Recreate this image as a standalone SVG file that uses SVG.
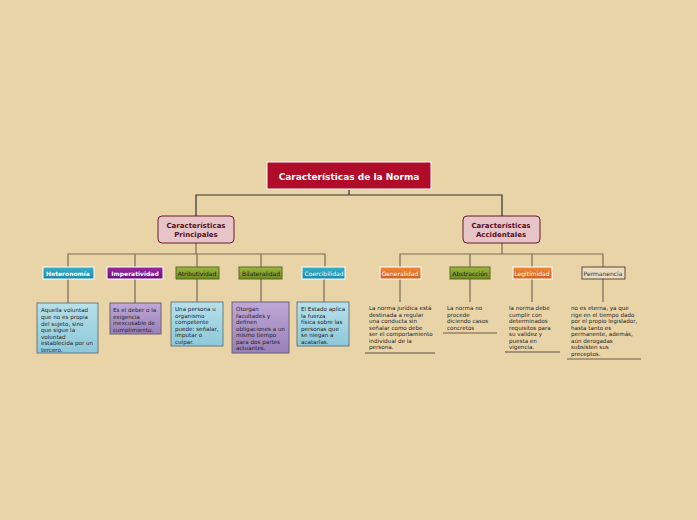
<svg xmlns="http://www.w3.org/2000/svg" width="697" height="520" viewBox="0 0 697 520">
<defs>
<linearGradient id="gb" x1="0" y1="0" x2="0" y2="1"><stop offset="0" stop-color="#3ab0c8"/><stop offset="1" stop-color="#1a88a8"/></linearGradient>
<linearGradient id="gp" x1="0" y1="0" x2="0" y2="1"><stop offset="0" stop-color="#9a2aa0"/><stop offset="1" stop-color="#6a0e78"/></linearGradient>
<linearGradient id="gg" x1="0" y1="0" x2="0" y2="1"><stop offset="0" stop-color="#9cb83e"/><stop offset="1" stop-color="#6f8a20"/></linearGradient>
<linearGradient id="go" x1="0" y1="0" x2="0" y2="1"><stop offset="0" stop-color="#f08a38"/><stop offset="1" stop-color="#d0601a"/></linearGradient>
<linearGradient id="bb" x1="0" y1="0" x2="0" y2="1"><stop offset="0" stop-color="#b8e0ea"/><stop offset="1" stop-color="#8cc8da"/></linearGradient>
<linearGradient id="bp" x1="0" y1="0" x2="0" y2="1"><stop offset="0" stop-color="#c0a8d8"/><stop offset="1" stop-color="#9880b8"/></linearGradient>
</defs>
<style>
text{font-family:"DejaVu Sans",Verdana,sans-serif}
.lbl{font-size:6px;fill:#fff;text-anchor:middle}
.b{font-size:5.6px;fill:#222}
.c{stroke:#7a6a55;stroke-width:1.2;fill:none}
.k{stroke:#333;stroke-width:1.2;fill:none}
.u{stroke:#8a7a68;stroke-width:1.5}
</style>
<rect width="697" height="520" fill="#e9d4a8"/>
<g id="connectors">
<path class="k" d="M349 190V195M196 216V195H502V216"/>
<path class="c" d="M196 243V254M68 267V254H325V267M135 254V267M197 254V267M261 254V267"/>
<path class="c" d="M502 243V254M400 267V254H603V267M470 254V267M532 254V267"/>
<path class="c" d="M68 279V303M135 279V303M197 279V302M261 279V302M324 279V302M400 279V302M470 279V302M532 279V302M603 279V302"/>
</g>
<g id="root"><rect x="267" y="162" width="164" height="27" fill="#b00c2a" stroke="#fff" stroke-width="1"/><text x="349" y="180" font-size="9" font-weight="bold" fill="#fff" text-anchor="middle">Características de la  Norma</text></g>
<g id="principales"><rect x="158" y="216" width="76" height="27" rx="4" fill="#e6c4c8" stroke="#6a1a2a"/><text x="196" y="228" font-size="7" font-weight="bold" fill="#5a1020" text-anchor="middle">Características</text><text x="196" y="237" font-size="7" font-weight="bold" fill="#5a1020" text-anchor="middle">Principales</text></g>
<g id="accidentales"><rect x="463" y="216" width="77" height="27" rx="4" fill="#e6c4c8" stroke="#6a1a2a"/><text x="501" y="228" font-size="7" font-weight="bold" fill="#5a1020" text-anchor="middle">Características</text><text x="501" y="237" font-size="7" font-weight="bold" fill="#5a1020" text-anchor="middle">Accidentales</text></g>
<g id="heteronomia"><rect x="43" y="267" width="51" height="12" fill="url(#gb)" stroke="#fff"/><text class="lbl" x="68" y="275.5" font-weight="bold">Heteronomía</text>
<rect x="37" y="303" width="61" height="50" fill="url(#bb)" stroke="#6a7a80"/><text class="b"><tspan x="41" y="312">Aquella voluntad</tspan><tspan x="41" y="319">que no es propia</tspan><tspan x="41" y="325.5">del sujeto, sino</tspan><tspan x="41" y="332">que  sigue la</tspan><tspan x="41" y="338.5">voluntad</tspan><tspan x="41" y="345">establecida por un</tspan><tspan x="41" y="351.5">tercero.</tspan></text></g>
<g id="imperatividad"><rect x="107" y="267" width="56" height="12" fill="url(#gp)" stroke="#fff"/><text class="lbl" x="135" y="275.5" font-weight="bold">Imperatividad</text>
<rect x="110" y="303" width="51" height="31" fill="url(#bp)" stroke="#6a6070"/><text class="b"><tspan x="113" y="312">Es el deber o la</tspan><tspan x="113" y="318.5">exigencia</tspan><tspan x="113" y="325">inexcusable  de</tspan><tspan x="113" y="331.5">cumplimiento.</tspan></text></g>
<g id="atributividad"><rect x="176" y="267" width="43" height="12" fill="url(#gg)" stroke="#5a6a20"/><text class="lbl" x="197" y="275.5" fill="#222" style="fill:#222">Atributividad</text>
<rect x="171" y="302" width="52" height="44" fill="url(#bb)" stroke="#6a7a80"/><text class="b"><tspan x="175" y="311">Una persona u</tspan><tspan x="175" y="317.5">organismo</tspan><tspan x="175" y="324">competente</tspan><tspan x="175" y="330.5">puede: señalar,</tspan><tspan x="175" y="337">imputar o</tspan><tspan x="175" y="343.5">culpar.</tspan></text></g>
<g id="bilateralidad"><rect x="239" y="267" width="43" height="12" fill="url(#gg)" stroke="#5a6a20"/><text class="lbl" x="261" y="275.5" style="fill:#222">Bilateralidad</text>
<rect x="232" y="302" width="57" height="51" fill="url(#bp)" stroke="#6a6070"/><text class="b"><tspan x="236" y="311">Otorgan</tspan><tspan x="236" y="317.5">facultades y</tspan><tspan x="236" y="324">definen</tspan><tspan x="236" y="330.5">obligaciones a un</tspan><tspan x="236" y="337">mismo tiempo</tspan><tspan x="236" y="343.5">para dos partes</tspan><tspan x="236" y="350">actuantes.</tspan></text></g>
<g id="coercibilidad"><rect x="302" y="267" width="43" height="12" fill="url(#gb)" stroke="#fff"/><text class="lbl" x="324" y="275.5">Coercibilidad</text>
<rect x="297" y="302" width="52" height="44" fill="url(#bb)" stroke="#6a7a80"/><text class="b"><tspan x="301" y="311">El Estado aplica</tspan><tspan x="301" y="317.5">la fuerza</tspan><tspan x="301" y="324">física sobre las</tspan><tspan x="301" y="330.5">personas que</tspan><tspan x="301" y="337">se niegan a</tspan><tspan x="301" y="343.5">acatarlas.</tspan></text></g>
<g id="generalidad"><rect x="380" y="267" width="41" height="12" fill="url(#go)" stroke="#fff"/><text class="lbl" x="400" y="275.5">Generalidad</text>
<text class="b"><tspan x="369" y="310">La norma jurídica está</tspan><tspan x="369" y="316.5">destinada a regular</tspan><tspan x="369" y="323">una conducta sin</tspan><tspan x="369" y="329.5">señalar como debe</tspan><tspan x="369" y="336">ser el comportamiento</tspan><tspan x="369" y="342.5">individual de la</tspan><tspan x="369" y="349">persona.</tspan></text><line class="u" x1="365" y1="353" x2="435" y2="353"/></g>
<g id="abstraccion"><rect x="450" y="267" width="40" height="12" fill="url(#gg)" stroke="#5a6a20"/><text class="lbl" x="470" y="275.5" style="fill:#222">Abstracción</text>
<text class="b"><tspan x="447" y="310">La norma no</tspan><tspan x="447" y="316.5">procede</tspan><tspan x="447" y="323">diciendo casos</tspan><tspan x="447" y="329.5">concretos</tspan></text><line class="u" x1="443" y1="333" x2="497" y2="333" style="stroke:#6a5a48;stroke-width:1"/></g>
<g id="legitimidad"><rect x="513" y="267" width="39" height="12" fill="url(#go)" stroke="#fff"/><text class="lbl" x="532" y="275.5">Legitimidad</text>
<text class="b"><tspan x="509" y="310">la norma debe</tspan><tspan x="509" y="316.5">cumplir con</tspan><tspan x="509" y="323">determinados</tspan><tspan x="509" y="329.5">requisitos para</tspan><tspan x="509" y="336">su validez y</tspan><tspan x="509" y="342.5">puesta en</tspan><tspan x="509" y="349">vigencia.</tspan></text><line class="u" x1="505" y1="352" x2="560" y2="352"/></g>
<g id="permanencia"><rect x="582" y="267" width="43" height="12" fill="#ecdcc0" stroke="#5a4a38"/><text class="lbl" x="603" y="275.5" style="fill:#333">Permanencia</text>
<text class="b"><tspan x="571" y="310">no es eterna, ya que</tspan><tspan x="571" y="316.5">rige en el tiempo dado</tspan><tspan x="571" y="323">por el propio legislador,</tspan><tspan x="571" y="329.5">hasta tanto es</tspan><tspan x="571" y="336">permanente, además,</tspan><tspan x="571" y="342.5">aún derogadas</tspan><tspan x="571" y="349">subsisten sus</tspan><tspan x="571" y="355.5">preceptos.</tspan></text><line class="u" x1="567" y1="359" x2="641" y2="359" style="stroke:#6a5a48;stroke-width:1"/></g>
</svg>
